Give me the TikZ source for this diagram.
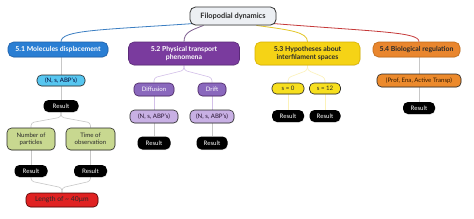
\documentclass[tikz,border=0pt]{standalone}
\usepackage{fontspec}
\setmainfont{Lato}
\usetikzlibrary{calc,backgrounds,shadows}
\definecolor{bBlue}{HTML}{2A7ED3}
\definecolor{bBlueD}{HTML}{1D5FA8}
\definecolor{bPurple}{HTML}{7A3B9E}
\definecolor{bPurpleD}{HTML}{5A2A78}
\definecolor{bYellow}{HTML}{F5D316}
\definecolor{bYellowD}{HTML}{D8B000}
\definecolor{bOrange}{HTML}{E9862E}
\definecolor{bOrangeD}{HTML}{C06A18}
\definecolor{lBlue}{HTML}{56C6F0}
\definecolor{lPurple}{HTML}{C8B0E4}
\definecolor{mPurple}{HTML}{8A68BD}
\definecolor{lYellow}{HTML}{F7DF1E}
\definecolor{lOrange}{HTML}{EC8A2C}
\definecolor{lGreen}{HTML}{C8D890}
\definecolor{lRed}{HTML}{E02222}
\definecolor{rootFill}{HTML}{ECEFF3}
\definecolor{txtDark}{HTML}{2A2A2A}
\tikzset{
  pill/.style={rectangle, rounded corners=5.5pt, inner sep=0pt, align=center,
    drop shadow={opacity=0.2, shadow xshift=0.4pt, shadow yshift=-0.7pt}},
  rootbox/.style={pill, fill=rootFill, draw=black!80, line width=0.8pt,
    font=\fontsize{7.4}{8.4}\selectfont\bfseries, text=txtDark},
  mainbox/.style={pill, line width=0.6pt, font=\fontsize{6.9}{7.9}\selectfont\bfseries},
  subbox/.style={pill, rounded corners=4.5pt, draw=black!85, line width=0.6pt,
    font=\fontsize{6.1}{7.1}\selectfont, text=txtDark},
  resbox/.style={pill, rounded corners=5pt, fill=black, text=white,
    minimum height=12pt, font=\fontsize{6.1}{7.1}\selectfont},
  trunk/.style={line width=0.8pt},
  twig/.style={line width=0.6pt, rounded corners=3pt}
}
\begin{document}
\begin{tikzpicture}[x=1pt, y=-1pt]
\useasboundingbox (0,0) rectangle (474,218);

% root
\node[rootbox, minimum width=86pt, minimum height=18pt] (root) at (233,16) {Filopodial dynamics};

% main branches
\node[mainbox, fill=bBlue, draw=bBlueD, text=white, minimum width=100pt, minimum height=15pt] (b1) at (58,49.5) {5.1 Molecules displacement};
\node[mainbox, fill=bPurple, draw=bPurpleD, text=white, minimum width=111pt, minimum height=23pt] (b2) at (184,53.5) {5.2 Physical transport\\phenomena};
\node[mainbox, fill=bYellow, draw=bYellowD, text=txtDark, minimum width=105pt, minimum height=23pt] (b3) at (307.5,53.5) {5.3 Hypotheses about\\interfilament spaces};
\node[mainbox, fill=bOrange, draw=bOrangeD, text=txtDark, minimum width=87pt, minimum height=15pt] (b4) at (416.5,49.5) {5.4 Biological regulation};

% branch 5.1
\node[subbox, fill=lBlue, text=black!80!blue, minimum width=48pt, minimum height=11pt] (n1) at (61,80.5) {(N, s, ABP's)};
\node[resbox, minimum width=35pt] (r1) at (61,106) {Result};
\node[subbox, fill=lGreen, minimum width=48pt, minimum height=22pt] (g1) at (31,139) {Number of\\particles};
\node[subbox, fill=lGreen, minimum width=49pt, minimum height=22pt] (g2) at (90.5,139) {Time of\\observation};
\node[resbox, minimum width=33pt] (r2) at (31,171) {Result};
\node[resbox, minimum width=33pt] (r3) at (90.5,171) {Result};
\node[subbox, fill=lRed, draw=black!70!red, minimum width=72pt, minimum height=14pt, font=\fontsize{6.8}{7.8}\selectfont] (len) at (62,200) {Length of \textasciitilde{} 40µm};

% branch 5.2
\node[subbox, fill=mPurple, draw=bPurpleD!80!black, text=white, minimum width=40pt, minimum height=13pt] (d1) at (154,89.5) {Diffusion};
\node[subbox, fill=mPurple, draw=bPurpleD!80!black, text=white, minimum width=28pt, minimum height=13pt] (d2) at (212,89.5) {Drift};
\node[subbox, fill=lPurple, text=black!70!bPurple, minimum width=48pt, minimum height=13pt] (p1) at (154,116.5) {(N, s, ABP's)};
\node[subbox, fill=lPurple, text=black!70!bPurple, minimum width=44pt, minimum height=13pt] (p2) at (212,116.5) {(N, s, ABP's)};
\node[resbox, minimum width=33pt, minimum height=13pt] (r4) at (154,143) {Result};
\node[resbox, minimum width=31pt, minimum height=13pt] (r5) at (212,143) {Result};

% branch 5.3
\node[subbox, fill=lYellow, minimum width=32pt, minimum height=11pt] (y1) at (288,88.5) {s = 0};
\node[subbox, fill=lYellow, minimum width=31pt, minimum height=11pt] (y2) at (325,88.5) {s = 12};
\node[resbox, minimum width=32pt] (r6) at (288,116) {Result};
\node[resbox, minimum width=31pt] (r7) at (325,116) {Result};

% branch 5.4
\node[subbox, fill=lOrange, text=black!80!orange, minimum width=84pt, minimum height=13pt] (o1) at (419,80.5) {(Prof, Ena, Active Transp)};
\node[resbox, minimum width=32pt] (r8) at (419,108) {Result};

\begin{scope}[on background layer]
\fill[white] (0,0) rectangle (474,218);
% root connectors
\draw[trunk, color=bBlue!80!gray] ([xshift=6pt,yshift=2pt]root.south west) .. controls (100,30) and (61,30) .. (b1.north -| n1.north);
\draw[trunk, color=bPurple!50!gray] ([xshift=14pt]root.south west) .. controls (192,30) and (184,32) .. (b2.north);
\draw[trunk, color=bYellow!85!gray] ([xshift=-20pt]root.south east) .. controls (290,30) and (307.5,32) .. (b3.north);
\draw[trunk, color=red!55!gray] ([xshift=-5pt,yshift=2pt]root.south east) .. controls (380,32) and (419,32) .. (b4.north -| o1.north);

% branch 5.1
\draw[twig, color=black!22] (b1.south -| n1.north) -- (n1.north);
\draw[twig, color=black!22] (n1.south) -- (r1.north);
\draw[twig, color=black!22] (r1.south) -- ++(0,5) -- ($(g1.north)+(0,-5)$) -- (g1.north);
\draw[twig, color=black!22] (r1.south) -- ++(0,5) -- ($(g2.north)+(0,-5)$) -- (g2.north);
\draw[twig, color=black!22] (g1.south) -- (r2.north);
\draw[twig, color=black!22] (g2.south) -- (r3.north);
\draw[twig, color=black!22] (r2.south) -- ++(0,4) -- ($(len.north)+(0,-5)$) -- (len.north);
\draw[twig, color=black!22] (r3.south) -- ++(0,4) -- ($(len.north)+(0,-5)$) -- (len.north);

% branch 5.2
\draw[twig, color=lPurple!80!white] (b2.south) -- ++(0,5) -- ($(d1.north)+(0,-5)$) -- (d1.north);
\draw[twig, color=lPurple!80!white] (b2.south) -- ++(0,5) -- ($(d2.north)+(0,-5)$) -- (d2.north);
\draw[twig, color=lPurple!80!white] (d1.south) -- (p1.north);
\draw[twig, color=lPurple!80!white] (d2.south) -- (p2.north);
\draw[twig, color=black!22] (p1.south) -- (r4.north);
\draw[twig, color=black!22] (p2.south) -- (r5.north);

% branch 5.3
\draw[twig, color=bYellow!30!white] (b3.south) -- ++(0,5) -- ($(y1.north)+(0,-5)$) -- (y1.north);
\draw[twig, color=bYellow!30!white] (b3.south) -- ++(0,5) -- ($(y2.north)+(0,-5)$) -- (y2.north);
\draw[twig, color=bYellow!30!white] (y1.south) -- (r6.north);
\draw[twig, color=bYellow!30!white] (y2.south) -- (r7.north);

% branch 5.4
\draw[twig, color=black!22] (b4.south -| o1.north) -- (o1.north);
\draw[twig, color=black!22] (o1.south) -- (r8.north);
\end{scope}
\end{tikzpicture}
\end{document}
